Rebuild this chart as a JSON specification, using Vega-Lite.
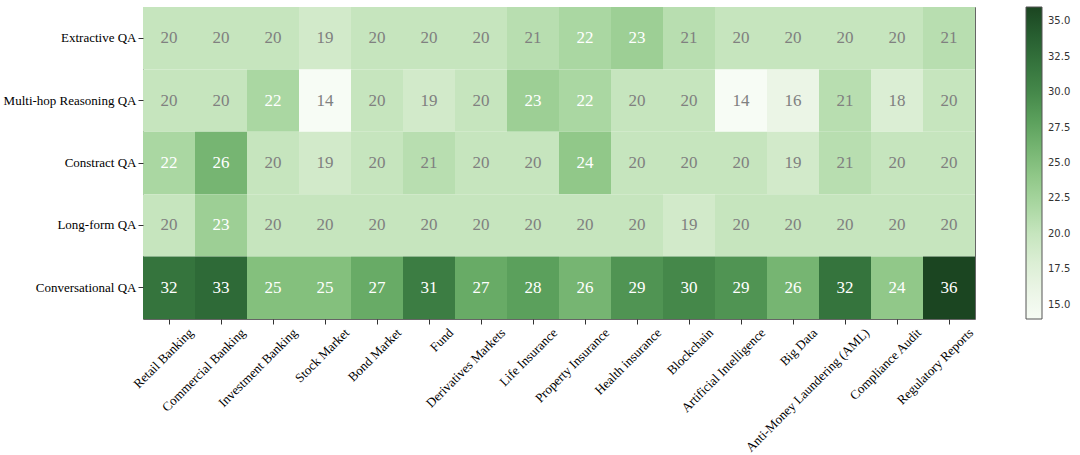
{
  "$schema": "https://vega.github.io/schema/vega-lite/v6.json",
  "width": 832,
  "height": 312,
  "autosize": {"type": "none"},
  "padding": {"left": 143, "top": 7, "right": 105, "bottom": 136},
  "background": "white",
  "config": {"view": {"stroke": "#666666", "strokeWidth": 1}, "font": "Liberation Serif"},
  "data": {"values": [
    {"t": "Extractive QA", "d": "Retail Banking", "v": 20},
    {"t": "Extractive QA", "d": "Commercial Banking", "v": 20},
    {"t": "Extractive QA", "d": "Investment Banking", "v": 20},
    {"t": "Extractive QA", "d": "Stock Market", "v": 19},
    {"t": "Extractive QA", "d": "Bond Market", "v": 20},
    {"t": "Extractive QA", "d": "Fund", "v": 20},
    {"t": "Extractive QA", "d": "Derivatives Markets", "v": 20},
    {"t": "Extractive QA", "d": "Life Insurance", "v": 21},
    {"t": "Extractive QA", "d": "Property Insurance", "v": 22},
    {"t": "Extractive QA", "d": "Health insurance", "v": 23},
    {"t": "Extractive QA", "d": "Blockchain", "v": 21},
    {"t": "Extractive QA", "d": "Artificial Intelligence", "v": 20},
    {"t": "Extractive QA", "d": "Big Data", "v": 20},
    {"t": "Extractive QA", "d": "Anti-Money Laundering (AML)", "v": 20},
    {"t": "Extractive QA", "d": "Compliance Audit", "v": 20},
    {"t": "Extractive QA", "d": "Regulatory Reports", "v": 21},
    {"t": "Multi-hop Reasoning QA", "d": "Retail Banking", "v": 20},
    {"t": "Multi-hop Reasoning QA", "d": "Commercial Banking", "v": 20},
    {"t": "Multi-hop Reasoning QA", "d": "Investment Banking", "v": 22},
    {"t": "Multi-hop Reasoning QA", "d": "Stock Market", "v": 14},
    {"t": "Multi-hop Reasoning QA", "d": "Bond Market", "v": 20},
    {"t": "Multi-hop Reasoning QA", "d": "Fund", "v": 19},
    {"t": "Multi-hop Reasoning QA", "d": "Derivatives Markets", "v": 20},
    {"t": "Multi-hop Reasoning QA", "d": "Life Insurance", "v": 23},
    {"t": "Multi-hop Reasoning QA", "d": "Property Insurance", "v": 22},
    {"t": "Multi-hop Reasoning QA", "d": "Health insurance", "v": 20},
    {"t": "Multi-hop Reasoning QA", "d": "Blockchain", "v": 20},
    {"t": "Multi-hop Reasoning QA", "d": "Artificial Intelligence", "v": 14},
    {"t": "Multi-hop Reasoning QA", "d": "Big Data", "v": 16},
    {"t": "Multi-hop Reasoning QA", "d": "Anti-Money Laundering (AML)", "v": 21},
    {"t": "Multi-hop Reasoning QA", "d": "Compliance Audit", "v": 18},
    {"t": "Multi-hop Reasoning QA", "d": "Regulatory Reports", "v": 20},
    {"t": "Constract QA", "d": "Retail Banking", "v": 22},
    {"t": "Constract QA", "d": "Commercial Banking", "v": 26},
    {"t": "Constract QA", "d": "Investment Banking", "v": 20},
    {"t": "Constract QA", "d": "Stock Market", "v": 19},
    {"t": "Constract QA", "d": "Bond Market", "v": 20},
    {"t": "Constract QA", "d": "Fund", "v": 21},
    {"t": "Constract QA", "d": "Derivatives Markets", "v": 20},
    {"t": "Constract QA", "d": "Life Insurance", "v": 20},
    {"t": "Constract QA", "d": "Property Insurance", "v": 24},
    {"t": "Constract QA", "d": "Health insurance", "v": 20},
    {"t": "Constract QA", "d": "Blockchain", "v": 20},
    {"t": "Constract QA", "d": "Artificial Intelligence", "v": 20},
    {"t": "Constract QA", "d": "Big Data", "v": 19},
    {"t": "Constract QA", "d": "Anti-Money Laundering (AML)", "v": 21},
    {"t": "Constract QA", "d": "Compliance Audit", "v": 20},
    {"t": "Constract QA", "d": "Regulatory Reports", "v": 20},
    {"t": "Long-form QA", "d": "Retail Banking", "v": 20},
    {"t": "Long-form QA", "d": "Commercial Banking", "v": 23},
    {"t": "Long-form QA", "d": "Investment Banking", "v": 20},
    {"t": "Long-form QA", "d": "Stock Market", "v": 20},
    {"t": "Long-form QA", "d": "Bond Market", "v": 20},
    {"t": "Long-form QA", "d": "Fund", "v": 20},
    {"t": "Long-form QA", "d": "Derivatives Markets", "v": 20},
    {"t": "Long-form QA", "d": "Life Insurance", "v": 20},
    {"t": "Long-form QA", "d": "Property Insurance", "v": 20},
    {"t": "Long-form QA", "d": "Health insurance", "v": 20},
    {"t": "Long-form QA", "d": "Blockchain", "v": 19},
    {"t": "Long-form QA", "d": "Artificial Intelligence", "v": 20},
    {"t": "Long-form QA", "d": "Big Data", "v": 20},
    {"t": "Long-form QA", "d": "Anti-Money Laundering (AML)", "v": 20},
    {"t": "Long-form QA", "d": "Compliance Audit", "v": 20},
    {"t": "Long-form QA", "d": "Regulatory Reports", "v": 20},
    {"t": "Conversational QA", "d": "Retail Banking", "v": 32},
    {"t": "Conversational QA", "d": "Commercial Banking", "v": 33},
    {"t": "Conversational QA", "d": "Investment Banking", "v": 25},
    {"t": "Conversational QA", "d": "Stock Market", "v": 25},
    {"t": "Conversational QA", "d": "Bond Market", "v": 27},
    {"t": "Conversational QA", "d": "Fund", "v": 31},
    {"t": "Conversational QA", "d": "Derivatives Markets", "v": 27},
    {"t": "Conversational QA", "d": "Life Insurance", "v": 28},
    {"t": "Conversational QA", "d": "Property Insurance", "v": 26},
    {"t": "Conversational QA", "d": "Health insurance", "v": 29},
    {"t": "Conversational QA", "d": "Blockchain", "v": 30},
    {"t": "Conversational QA", "d": "Artificial Intelligence", "v": 29},
    {"t": "Conversational QA", "d": "Big Data", "v": 26},
    {"t": "Conversational QA", "d": "Anti-Money Laundering (AML)", "v": 32},
    {"t": "Conversational QA", "d": "Compliance Audit", "v": 24},
    {"t": "Conversational QA", "d": "Regulatory Reports", "v": 36}
  ]},
  "encoding": {
    "x": {
      "field": "d", "type": "nominal",
      "sort": ["Retail Banking", "Commercial Banking", "Investment Banking", "Stock Market", "Bond Market", "Fund", "Derivatives Markets", "Life Insurance", "Property Insurance", "Health insurance", "Blockchain", "Artificial Intelligence", "Big Data", "Anti-Money Laundering (AML)", "Compliance Audit", "Regulatory Reports"],
      "scale": {"paddingInner": 0, "paddingOuter": 0},
      "axis": {
        "title": null, "labelAngle": -45, "labelAlign": "right", "labelBaseline": "top",
        "labelFont": "Liberation Serif", "labelFontSize": 13, "labelColor": "#000000",
        "labelPadding": 2, "labelOffset": 18, "tickSize": 5, "tickColor": "#333333", "domain": false,
        "labelOverlap": false, "labelLimit": 400
      }
    },
    "y": {
      "field": "t", "type": "nominal",
      "sort": ["Extractive QA", "Multi-hop Reasoning QA", "Constract QA", "Long-form QA", "Conversational QA"],
      "scale": {"paddingInner": 0, "paddingOuter": 0},
      "axis": {
        "title": null, "labelFont": "Liberation Serif", "labelFontSize": 13, "labelColor": "#000000",
        "labelPadding": 2, "tickSize": 5, "tickColor": "#333333", "domain": false, "labelLimit": 400
      }
    }
  },
  "layer": [
    {
      "mark": {"type": "rect"},
      "encoding": {
        "color": {
          "field": "v", "type": "quantitative",
          "scale": {
            "domain": [14, 16.75, 19.5, 22.25, 25, 27.75, 30.5, 33.25, 36],
            "range": ["#f7fcf5", "#e6f3e1", "#cde8c5", "#a7d59e", "#84c07d", "#5ea35e", "#3f8246", "#2c6835", "#1b4521"],
            "interpolate": "rgb"
          },
          "legend": {
            "title": null, "orient": "right", "offset": 51,
            "gradientLength": 312, "gradientThickness": 16,
            "values": [15, 17.5, 20, 22.5, 25, 27.5, 30, 32.5, 35],
            "format": ".1f", "labelFont": "DejaVu Sans", "labelFontSize": 10, "labelColor": "#333333",
            "labelOffset": 6, "gradientStrokeColor": "#555555", "gradientStrokeWidth": 1
          }
        }
      }
    },
    {
      "mark": {"type": "text", "font": "Liberation Serif", "fontSize": 17},
      "encoding": {
        "text": {"field": "v", "type": "quantitative"},
        "color": {"condition": {"test": "datum.v >= 22", "value": "#ffffff"}, "value": "#808080"}
      }
    }
  ]
}
